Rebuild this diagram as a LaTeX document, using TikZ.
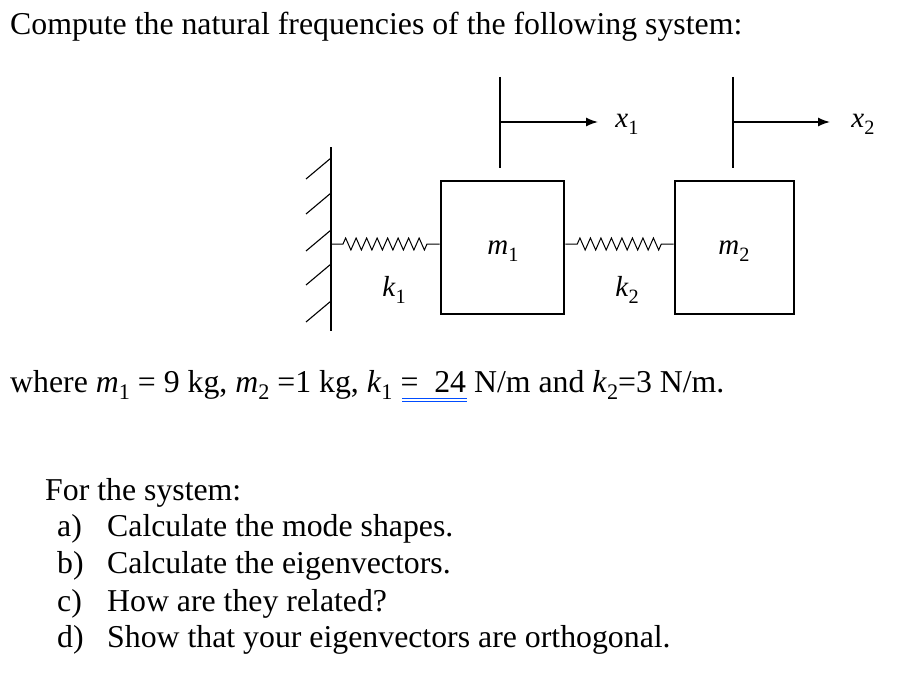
\documentclass[tikz,border=0pt]{standalone}
\usepackage{fontspec}
\setmainfont{Liberation Serif}
\usetikzlibrary{decorations.pathmorphing,arrows.meta}
\newcommand{\sbs}[1]{\raisebox{-0.25em}{\scalebox{0.7}{#1}}}
\begin{document}
\begin{tikzpicture}[x=1pt,y=-1pt,
  spr/.style={line width=1pt,decoration={zigzag,segment length=10.5pt,amplitude=6pt,pre length=12pt,post length=8pt},decorate},
  lbl/.style={inner sep=0pt,font=\fontsize{29}{29}\selectfont},
  txt/.style={anchor=base west,inner sep=0pt,font=\fontsize{31.8}{32}\selectfont}]
\useasboundingbox (0,0) rectangle (913,677);
\node[txt] (title) at (10,35) {Compute the natural frequencies of the following system:};
% wall
\draw[line width=1.5pt] (331,147) -- (331,331);
\foreach \y in {158,193,230,264,301} \draw[line width=1.1pt] (331,\y) -- (306,\y+21);
% masses
\node[draw,line width=2.6pt,minimum width=123pt,minimum height=133pt,inner sep=0pt] (M1) at (502.5,247.5) {};
\node[draw,line width=2.6pt,minimum width=119pt,minimum height=133pt,inner sep=0pt] (M2) at (734.5,247.5) {};
\coordinate (W) at (331,244);
\draw[spr] (W) -- (M1.west|-W);
\draw[spr] (M1.east|-W) -- (M2.west|-W);
\node[lbl] (m1) at (503,251) {\textit{m}\sbs{1}};
\node[lbl] (m2) at (734,251) {\textit{m}\sbs{2}};
\node[lbl] (k1) at (394,290) {\textit{k}\sbs{1}};
\node[lbl] (k2) at (627,290) {\textit{k}\sbs{2}};
% displacement markers
\coordinate (a1) at (500,77); \coordinate (b1) at (500,168); \coordinate (c1) at (500,122); \coordinate (d1) at (598,122);
\draw[line width=1.5pt] (a1) -- (b1);
\draw[line width=1.5pt,-{Latex[length=12pt,width=9pt]}] (c1) -- (d1);
\node[lbl] (x1) at (627,124) {\textit{x}\sbs{1}};
\coordinate (a2) at (733,77); \coordinate (b2) at (733,168); \coordinate (c2) at (733,122); \coordinate (d2) at (830,122);
\draw[line width=1.5pt] (a2) -- (b2);
\draw[line width=1.5pt,-{Latex[length=12pt,width=9pt]}] (c2) -- (d2);
\node[lbl] (x2) at (863,124) {\textit{x}\sbs{2}};
% where line
\node[txt] (where) at (10,392) {where \textit{m}\sbs{1} = 9 kg, \textit{m}\sbs{2} =1 kg, \textit{k}\sbs{1} = \ 24 N/m and \textit{k}\sbs{2}=3 N/m.};
\coordinate (u1) at (402,398); \coordinate (u2) at (467,398);
\coordinate (v1) at (402,401); \coordinate (v2) at (467,401);
\draw[blue!70!cyan,line width=0.9pt] (u1) -- (u2);
\draw[blue!70!cyan,line width=0.9pt] (v1) -- (v2);
% list
\node[txt] (for) at (45,500) {For the system:};
\node[txt] (ia) at (57,536) {a)};\node[txt] (ta) at (107,536) {Calculate the mode shapes.};
\node[txt] (ib) at (57,573) {b)};\node[txt] (tb) at (107,573) {Calculate the eigenvectors.};
\node[txt] (ic) at (57,611) {c)};\node[txt] (tc) at (107,611) {How are they related?};
\node[txt] (id) at (57,647) {d)};\node[txt] (td) at (107,647) {Show that your eigenvectors are orthogonal.};
\end{tikzpicture}
\end{document}
